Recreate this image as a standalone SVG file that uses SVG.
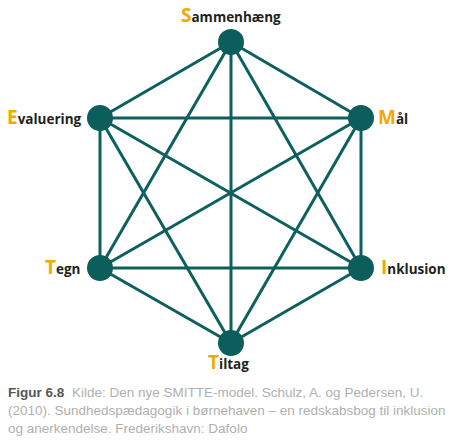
<svg xmlns="http://www.w3.org/2000/svg" width="453" height="441" viewBox="0 0 453 441">
<style>
.edge{stroke:#0d605d;stroke-width:3;stroke-linecap:round}
.node{fill:#0b5e5b}
.lbl{font-family:"Open Sans","Liberation Sans",sans-serif;font-weight:bold;font-size:13.5px;fill:#231f20}
.ini{fill:#f5a800;font-size:19px}
.cap{font-family:"Liberation Sans",Arial,sans-serif;font-size:13.5px;fill:#b0b0b0}
.capb{fill:#555;font-weight:bold}
</style>
<rect width="453" height="441" fill="#fff"/>
<g id="connectors">
<line class="edge" x1="231" y1="42" x2="361" y2="118"/>
<line class="edge" x1="231" y1="42" x2="361" y2="268"/>
<line class="edge" x1="231" y1="42" x2="231" y2="343"/>
<line class="edge" x1="231" y1="42" x2="100" y2="268"/>
<line class="edge" x1="231" y1="42" x2="100" y2="118"/>
<line class="edge" x1="361" y1="118" x2="361" y2="268"/>
<line class="edge" x1="361" y1="118" x2="231" y2="343"/>
<line class="edge" x1="361" y1="118" x2="100" y2="268"/>
<line class="edge" x1="361" y1="118" x2="100" y2="118"/>
<line class="edge" x1="361" y1="268" x2="231" y2="343"/>
<line class="edge" x1="361" y1="268" x2="100" y2="268"/>
<line class="edge" x1="361" y1="268" x2="100" y2="118"/>
<line class="edge" x1="231" y1="343" x2="100" y2="268"/>
<line class="edge" x1="231" y1="343" x2="100" y2="118"/>
<line class="edge" x1="100" y1="268" x2="100" y2="118"/>
</g>
<g id="sammenhaeng"><circle class="node" cx="231" cy="42" r="13"/><text class="lbl" x="181" y="22"><tspan class="ini">S</tspan>ammenhæng</text></g>
<g id="maal"><circle class="node" cx="361" cy="118" r="13"/><text class="lbl" x="378" y="124"><tspan class="ini">M</tspan>ål</text></g>
<g id="inklusion"><circle class="node" cx="361" cy="268" r="13"/><text class="lbl" x="381" y="274"><tspan class="ini">I</tspan>nklusion</text></g>
<g id="tiltag"><circle class="node" cx="231" cy="343" r="13"/><text class="lbl" x="208" y="369"><tspan class="ini">T</tspan>iltag</text></g>
<g id="tegn"><circle class="node" cx="100" cy="268" r="13"/><text class="lbl" x="45" y="274"><tspan class="ini">T</tspan>egn</text></g>
<g id="evaluering"><circle class="node" cx="100" cy="118" r="13"/><text class="lbl" x="7" y="124"><tspan class="ini">E</tspan>valuering</text></g>
<g id="caption">
<text class="cap" x="8" y="397"><tspan class="capb">Figur 6.8</tspan><tspan dx="4"> Kilde: Den nye SMITTE-model. Schulz, A. og Pedersen, U.</tspan></text>
<text class="cap" x="8" y="415">(2010). Sundhedspædagogik i børnehaven – en redskabsbog til inklusion</text>
<text class="cap" x="8" y="433">og anerkendelse. Frederikshavn: Dafolo</text>
</g>
</svg>
